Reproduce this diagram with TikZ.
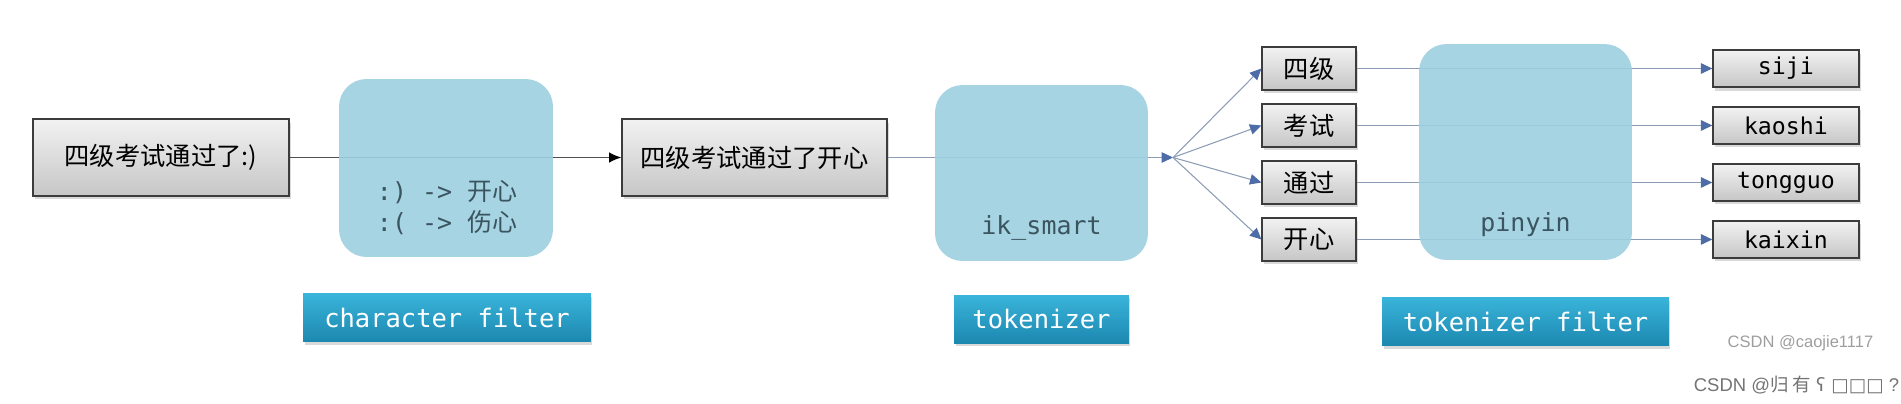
\documentclass[tikz,border=0pt]{standalone}
\usepackage{fontspec}
\setmonofont{DejaVu Sans Mono}
\newfontfamily\cjk{Noto Sans CJK SC}
\newfontfamily\wmfont{Liberation Sans}
\newfontfamily\symfont{DejaVu Sans}
\usepackage{tikz}
\usetikzlibrary{shapes,arrows.meta,shadows,positioning}

\definecolor{boxtop}{RGB}{242,242,242}
\definecolor{boxbottom}{RGB}{198,198,198}
\definecolor{boxline}{RGB}{60,60,60}
\definecolor{filterblue}{RGB}{157,207,223}
\definecolor{filtertext}{RGB}{58,84,96}
\definecolor{tagtop}{RGB}{58,180,218}
\definecolor{tagbottom}{RGB}{28,136,176}
\definecolor{fanline}{RGB}{140,156,182}
\definecolor{fantip}{RGB}{78,108,168}
\definecolor{flowline}{RGB}{80,80,80}

\begin{document}
\begin{tikzpicture}[x=0.02cm, y=-0.02cm,
    graybox/.style={rectangle, draw=boxline, line width=0.7pt, top color=boxtop, bottom color=boxbottom, inner sep=0pt, drop shadow={opacity=0.3, shadow xshift=0.04cm, shadow yshift=-0.07cm}},
    bluebox/.style={rectangle, rounded corners=0.55cm, fill=filterblue, fill opacity=0.9, inner sep=0pt},
    ruletext/.style={text=filtertext, font=\ttfamily\fontsize{14.2}{17.6}\selectfont},
    tagbox/.style={rectangle, top color=tagtop, bottom color=tagbottom, text=white, minimum height=0.96cm, inner sep=0pt, font=\ttfamily\fontsize{14.5}{17}\selectfont, drop shadow={opacity=0.3, shadow xshift=0.03cm, shadow yshift=-0.06cm}},
    flowarrow/.style={draw, thick, flowline, -{Latex[length=7pt, width=6pt, color=black]}},
    fanarrow/.style={draw, semithick, fanline, -{Triangle[length=6.5pt, width=6pt, color=fantip]}}]
    \useasboundingbox (0,0) rectangle (1901,403);

    \node[graybox, minimum width=5.12cm, minimum height=1.54cm, font=\cjk\fontsize{14.4}{17}\selectfont](in) at (161,157.5){四级考试通过了:)};
    \node[graybox, minimum width=5.3cm, minimum height=1.54cm, font=\cjk\fontsize{14.4}{17}\selectfont](mid) at (754.5,157.5){四级考试通过了开心};
    \coordinate (fan) at (1173,157.5);

    \node[graybox, minimum width=1.88cm, minimum height=0.86cm, font=\cjk\fontsize{14.4}{17}\selectfont](w1) at (1309,68.5){四级};
    \node[graybox, minimum width=1.88cm, minimum height=0.86cm, font=\cjk\fontsize{14.4}{17}\selectfont, node distance=1.14cm, below of=w1](w2){考试};
    \node[graybox, minimum width=1.88cm, minimum height=0.86cm, font=\cjk\fontsize{14.4}{17}\selectfont, node distance=1.14cm, below of=w2](w3){通过};
    \node[graybox, minimum width=1.88cm, minimum height=0.86cm, font=\cjk\fontsize{14.4}{17}\selectfont, node distance=1.14cm, below of=w3](w4){开心};

    \node[graybox, minimum width=2.92cm, minimum height=0.74cm, font=\ttfamily\fontsize{13.2}{16}\selectfont, node distance=9.54cm, right of=w1](p1){siji};
    \node[graybox, minimum width=2.92cm, minimum height=0.74cm, font=\ttfamily\fontsize{13.2}{16}\selectfont, node distance=9.54cm, right of=w2](p2){kaoshi};
    \node[graybox, minimum width=2.92cm, minimum height=0.74cm, font=\ttfamily\fontsize{13.2}{16}\selectfont, node distance=9.54cm, right of=w3](p3){tongguo};
    \node[graybox, minimum width=2.92cm, minimum height=0.74cm, font=\ttfamily\fontsize{13.2}{16}\selectfont, node distance=9.54cm, right of=w4](p4){kaixin};

    \path[flowarrow](in)--(mid);
    \path[fanarrow](mid)--(fan);
    \path[fanarrow](fan)--(w1.west);
    \path[fanarrow](fan)--(w2.west);
    \path[fanarrow](fan)--(w3.west);
    \path[fanarrow](fan)--(w4.west);
    \path[fanarrow](w1)--(p1);
    \path[fanarrow](w2)--(p2);
    \path[fanarrow](w3)--(p3);
    \path[fanarrow](w4)--(p4);

    % filters drawn over the lines
    \node[bluebox, minimum width=4.28cm, minimum height=3.56cm](cf) at (446,168){};
    \node[bluebox, minimum width=4.26cm, minimum height=3.52cm](ik) at (1041.5,173){};
    \node[bluebox, minimum width=4.26cm, minimum height=4.32cm](py) at (1525.5,152){};
    \node[ruletext, align=left](cfrules) at (447,207.5){:) -> {\cjk 开心}\\:( -> {\cjk 伤心}};
    \node[ruletext](iktext) at (1041.5,228){ik\_smart};
    \node[ruletext](pytext) at (1525.5,225){pinyin};

    \node[tagbox, minimum width=5.76cm](cftag) at (447,317.5){character filter};
    \node[tagbox, minimum width=3.5cm](iktag) at (1041.5,319){tokenizer};
    \node[tagbox, minimum width=5.74cm](pytag) at (1525.5,321.5){tokenizer filter};

    \node[text=black!38, font=\wmfont\fontsize{9.4}{11}\selectfont](wm1) at (1800.5,343){CSDN @caojie1117};
    \node[text=black!55, font=\wmfont\fontsize{10.5}{12}\selectfont](wm2) at (1796.5,385){CSDN @{\cjk 归 有} {\symfont ʕ □□□} ?};
\end{tikzpicture}
\end{document}
